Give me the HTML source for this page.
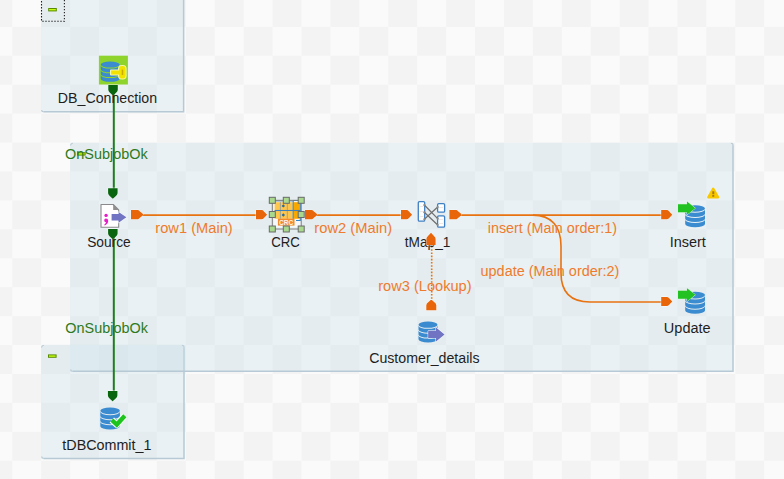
<!DOCTYPE html>
<html><head><meta charset="utf-8"><style>
html,body{margin:0;padding:0;width:784px;height:479px;overflow:hidden;background:#fafafa;}
</style></head><body><svg width="784" height="479" viewBox="0 0 784 479" style="display:block"><g fill="#f3f3f3"><rect x="12.30" y="-30.92" width="28.92" height="28.92"/><rect x="70.14" y="-30.92" width="28.92" height="28.92"/><rect x="127.98" y="-30.92" width="28.92" height="28.92"/><rect x="185.82" y="-30.92" width="28.92" height="28.92"/><rect x="243.66" y="-30.92" width="28.92" height="28.92"/><rect x="301.50" y="-30.92" width="28.92" height="28.92"/><rect x="359.34" y="-30.92" width="28.92" height="28.92"/><rect x="417.18" y="-30.92" width="28.92" height="28.92"/><rect x="475.02" y="-30.92" width="28.92" height="28.92"/><rect x="532.86" y="-30.92" width="28.92" height="28.92"/><rect x="590.70" y="-30.92" width="28.92" height="28.92"/><rect x="648.54" y="-30.92" width="28.92" height="28.92"/><rect x="706.38" y="-30.92" width="28.92" height="28.92"/><rect x="764.22" y="-30.92" width="28.92" height="28.92"/><rect x="-16.62" y="-2.00" width="28.92" height="28.92"/><rect x="41.22" y="-2.00" width="28.92" height="28.92"/><rect x="99.06" y="-2.00" width="28.92" height="28.92"/><rect x="156.90" y="-2.00" width="28.92" height="28.92"/><rect x="214.74" y="-2.00" width="28.92" height="28.92"/><rect x="272.58" y="-2.00" width="28.92" height="28.92"/><rect x="330.42" y="-2.00" width="28.92" height="28.92"/><rect x="388.26" y="-2.00" width="28.92" height="28.92"/><rect x="446.10" y="-2.00" width="28.92" height="28.92"/><rect x="503.94" y="-2.00" width="28.92" height="28.92"/><rect x="561.78" y="-2.00" width="28.92" height="28.92"/><rect x="619.62" y="-2.00" width="28.92" height="28.92"/><rect x="677.46" y="-2.00" width="28.92" height="28.92"/><rect x="735.30" y="-2.00" width="28.92" height="28.92"/><rect x="793.14" y="-2.00" width="28.92" height="28.92"/><rect x="12.30" y="26.92" width="28.92" height="28.92"/><rect x="70.14" y="26.92" width="28.92" height="28.92"/><rect x="127.98" y="26.92" width="28.92" height="28.92"/><rect x="185.82" y="26.92" width="28.92" height="28.92"/><rect x="243.66" y="26.92" width="28.92" height="28.92"/><rect x="301.50" y="26.92" width="28.92" height="28.92"/><rect x="359.34" y="26.92" width="28.92" height="28.92"/><rect x="417.18" y="26.92" width="28.92" height="28.92"/><rect x="475.02" y="26.92" width="28.92" height="28.92"/><rect x="532.86" y="26.92" width="28.92" height="28.92"/><rect x="590.70" y="26.92" width="28.92" height="28.92"/><rect x="648.54" y="26.92" width="28.92" height="28.92"/><rect x="706.38" y="26.92" width="28.92" height="28.92"/><rect x="764.22" y="26.92" width="28.92" height="28.92"/><rect x="-16.62" y="55.84" width="28.92" height="28.92"/><rect x="41.22" y="55.84" width="28.92" height="28.92"/><rect x="99.06" y="55.84" width="28.92" height="28.92"/><rect x="156.90" y="55.84" width="28.92" height="28.92"/><rect x="214.74" y="55.84" width="28.92" height="28.92"/><rect x="272.58" y="55.84" width="28.92" height="28.92"/><rect x="330.42" y="55.84" width="28.92" height="28.92"/><rect x="388.26" y="55.84" width="28.92" height="28.92"/><rect x="446.10" y="55.84" width="28.92" height="28.92"/><rect x="503.94" y="55.84" width="28.92" height="28.92"/><rect x="561.78" y="55.84" width="28.92" height="28.92"/><rect x="619.62" y="55.84" width="28.92" height="28.92"/><rect x="677.46" y="55.84" width="28.92" height="28.92"/><rect x="735.30" y="55.84" width="28.92" height="28.92"/><rect x="793.14" y="55.84" width="28.92" height="28.92"/><rect x="12.30" y="84.76" width="28.92" height="28.92"/><rect x="70.14" y="84.76" width="28.92" height="28.92"/><rect x="127.98" y="84.76" width="28.92" height="28.92"/><rect x="185.82" y="84.76" width="28.92" height="28.92"/><rect x="243.66" y="84.76" width="28.92" height="28.92"/><rect x="301.50" y="84.76" width="28.92" height="28.92"/><rect x="359.34" y="84.76" width="28.92" height="28.92"/><rect x="417.18" y="84.76" width="28.92" height="28.92"/><rect x="475.02" y="84.76" width="28.92" height="28.92"/><rect x="532.86" y="84.76" width="28.92" height="28.92"/><rect x="590.70" y="84.76" width="28.92" height="28.92"/><rect x="648.54" y="84.76" width="28.92" height="28.92"/><rect x="706.38" y="84.76" width="28.92" height="28.92"/><rect x="764.22" y="84.76" width="28.92" height="28.92"/><rect x="-16.62" y="113.68" width="28.92" height="28.92"/><rect x="41.22" y="113.68" width="28.92" height="28.92"/><rect x="99.06" y="113.68" width="28.92" height="28.92"/><rect x="156.90" y="113.68" width="28.92" height="28.92"/><rect x="214.74" y="113.68" width="28.92" height="28.92"/><rect x="272.58" y="113.68" width="28.92" height="28.92"/><rect x="330.42" y="113.68" width="28.92" height="28.92"/><rect x="388.26" y="113.68" width="28.92" height="28.92"/><rect x="446.10" y="113.68" width="28.92" height="28.92"/><rect x="503.94" y="113.68" width="28.92" height="28.92"/><rect x="561.78" y="113.68" width="28.92" height="28.92"/><rect x="619.62" y="113.68" width="28.92" height="28.92"/><rect x="677.46" y="113.68" width="28.92" height="28.92"/><rect x="735.30" y="113.68" width="28.92" height="28.92"/><rect x="793.14" y="113.68" width="28.92" height="28.92"/><rect x="12.30" y="142.60" width="28.92" height="28.92"/><rect x="70.14" y="142.60" width="28.92" height="28.92"/><rect x="127.98" y="142.60" width="28.92" height="28.92"/><rect x="185.82" y="142.60" width="28.92" height="28.92"/><rect x="243.66" y="142.60" width="28.92" height="28.92"/><rect x="301.50" y="142.60" width="28.92" height="28.92"/><rect x="359.34" y="142.60" width="28.92" height="28.92"/><rect x="417.18" y="142.60" width="28.92" height="28.92"/><rect x="475.02" y="142.60" width="28.92" height="28.92"/><rect x="532.86" y="142.60" width="28.92" height="28.92"/><rect x="590.70" y="142.60" width="28.92" height="28.92"/><rect x="648.54" y="142.60" width="28.92" height="28.92"/><rect x="706.38" y="142.60" width="28.92" height="28.92"/><rect x="764.22" y="142.60" width="28.92" height="28.92"/><rect x="-16.62" y="171.52" width="28.92" height="28.92"/><rect x="41.22" y="171.52" width="28.92" height="28.92"/><rect x="99.06" y="171.52" width="28.92" height="28.92"/><rect x="156.90" y="171.52" width="28.92" height="28.92"/><rect x="214.74" y="171.52" width="28.92" height="28.92"/><rect x="272.58" y="171.52" width="28.92" height="28.92"/><rect x="330.42" y="171.52" width="28.92" height="28.92"/><rect x="388.26" y="171.52" width="28.92" height="28.92"/><rect x="446.10" y="171.52" width="28.92" height="28.92"/><rect x="503.94" y="171.52" width="28.92" height="28.92"/><rect x="561.78" y="171.52" width="28.92" height="28.92"/><rect x="619.62" y="171.52" width="28.92" height="28.92"/><rect x="677.46" y="171.52" width="28.92" height="28.92"/><rect x="735.30" y="171.52" width="28.92" height="28.92"/><rect x="793.14" y="171.52" width="28.92" height="28.92"/><rect x="12.30" y="200.44" width="28.92" height="28.92"/><rect x="70.14" y="200.44" width="28.92" height="28.92"/><rect x="127.98" y="200.44" width="28.92" height="28.92"/><rect x="185.82" y="200.44" width="28.92" height="28.92"/><rect x="243.66" y="200.44" width="28.92" height="28.92"/><rect x="301.50" y="200.44" width="28.92" height="28.92"/><rect x="359.34" y="200.44" width="28.92" height="28.92"/><rect x="417.18" y="200.44" width="28.92" height="28.92"/><rect x="475.02" y="200.44" width="28.92" height="28.92"/><rect x="532.86" y="200.44" width="28.92" height="28.92"/><rect x="590.70" y="200.44" width="28.92" height="28.92"/><rect x="648.54" y="200.44" width="28.92" height="28.92"/><rect x="706.38" y="200.44" width="28.92" height="28.92"/><rect x="764.22" y="200.44" width="28.92" height="28.92"/><rect x="-16.62" y="229.36" width="28.92" height="28.92"/><rect x="41.22" y="229.36" width="28.92" height="28.92"/><rect x="99.06" y="229.36" width="28.92" height="28.92"/><rect x="156.90" y="229.36" width="28.92" height="28.92"/><rect x="214.74" y="229.36" width="28.92" height="28.92"/><rect x="272.58" y="229.36" width="28.92" height="28.92"/><rect x="330.42" y="229.36" width="28.92" height="28.92"/><rect x="388.26" y="229.36" width="28.92" height="28.92"/><rect x="446.10" y="229.36" width="28.92" height="28.92"/><rect x="503.94" y="229.36" width="28.92" height="28.92"/><rect x="561.78" y="229.36" width="28.92" height="28.92"/><rect x="619.62" y="229.36" width="28.92" height="28.92"/><rect x="677.46" y="229.36" width="28.92" height="28.92"/><rect x="735.30" y="229.36" width="28.92" height="28.92"/><rect x="793.14" y="229.36" width="28.92" height="28.92"/><rect x="12.30" y="258.28" width="28.92" height="28.92"/><rect x="70.14" y="258.28" width="28.92" height="28.92"/><rect x="127.98" y="258.28" width="28.92" height="28.92"/><rect x="185.82" y="258.28" width="28.92" height="28.92"/><rect x="243.66" y="258.28" width="28.92" height="28.92"/><rect x="301.50" y="258.28" width="28.92" height="28.92"/><rect x="359.34" y="258.28" width="28.92" height="28.92"/><rect x="417.18" y="258.28" width="28.92" height="28.92"/><rect x="475.02" y="258.28" width="28.92" height="28.92"/><rect x="532.86" y="258.28" width="28.92" height="28.92"/><rect x="590.70" y="258.28" width="28.92" height="28.92"/><rect x="648.54" y="258.28" width="28.92" height="28.92"/><rect x="706.38" y="258.28" width="28.92" height="28.92"/><rect x="764.22" y="258.28" width="28.92" height="28.92"/><rect x="-16.62" y="287.20" width="28.92" height="28.92"/><rect x="41.22" y="287.20" width="28.92" height="28.92"/><rect x="99.06" y="287.20" width="28.92" height="28.92"/><rect x="156.90" y="287.20" width="28.92" height="28.92"/><rect x="214.74" y="287.20" width="28.92" height="28.92"/><rect x="272.58" y="287.20" width="28.92" height="28.92"/><rect x="330.42" y="287.20" width="28.92" height="28.92"/><rect x="388.26" y="287.20" width="28.92" height="28.92"/><rect x="446.10" y="287.20" width="28.92" height="28.92"/><rect x="503.94" y="287.20" width="28.92" height="28.92"/><rect x="561.78" y="287.20" width="28.92" height="28.92"/><rect x="619.62" y="287.20" width="28.92" height="28.92"/><rect x="677.46" y="287.20" width="28.92" height="28.92"/><rect x="735.30" y="287.20" width="28.92" height="28.92"/><rect x="793.14" y="287.20" width="28.92" height="28.92"/><rect x="12.30" y="316.12" width="28.92" height="28.92"/><rect x="70.14" y="316.12" width="28.92" height="28.92"/><rect x="127.98" y="316.12" width="28.92" height="28.92"/><rect x="185.82" y="316.12" width="28.92" height="28.92"/><rect x="243.66" y="316.12" width="28.92" height="28.92"/><rect x="301.50" y="316.12" width="28.92" height="28.92"/><rect x="359.34" y="316.12" width="28.92" height="28.92"/><rect x="417.18" y="316.12" width="28.92" height="28.92"/><rect x="475.02" y="316.12" width="28.92" height="28.92"/><rect x="532.86" y="316.12" width="28.92" height="28.92"/><rect x="590.70" y="316.12" width="28.92" height="28.92"/><rect x="648.54" y="316.12" width="28.92" height="28.92"/><rect x="706.38" y="316.12" width="28.92" height="28.92"/><rect x="764.22" y="316.12" width="28.92" height="28.92"/><rect x="-16.62" y="345.04" width="28.92" height="28.92"/><rect x="41.22" y="345.04" width="28.92" height="28.92"/><rect x="99.06" y="345.04" width="28.92" height="28.92"/><rect x="156.90" y="345.04" width="28.92" height="28.92"/><rect x="214.74" y="345.04" width="28.92" height="28.92"/><rect x="272.58" y="345.04" width="28.92" height="28.92"/><rect x="330.42" y="345.04" width="28.92" height="28.92"/><rect x="388.26" y="345.04" width="28.92" height="28.92"/><rect x="446.10" y="345.04" width="28.92" height="28.92"/><rect x="503.94" y="345.04" width="28.92" height="28.92"/><rect x="561.78" y="345.04" width="28.92" height="28.92"/><rect x="619.62" y="345.04" width="28.92" height="28.92"/><rect x="677.46" y="345.04" width="28.92" height="28.92"/><rect x="735.30" y="345.04" width="28.92" height="28.92"/><rect x="793.14" y="345.04" width="28.92" height="28.92"/><rect x="12.30" y="373.96" width="28.92" height="28.92"/><rect x="70.14" y="373.96" width="28.92" height="28.92"/><rect x="127.98" y="373.96" width="28.92" height="28.92"/><rect x="185.82" y="373.96" width="28.92" height="28.92"/><rect x="243.66" y="373.96" width="28.92" height="28.92"/><rect x="301.50" y="373.96" width="28.92" height="28.92"/><rect x="359.34" y="373.96" width="28.92" height="28.92"/><rect x="417.18" y="373.96" width="28.92" height="28.92"/><rect x="475.02" y="373.96" width="28.92" height="28.92"/><rect x="532.86" y="373.96" width="28.92" height="28.92"/><rect x="590.70" y="373.96" width="28.92" height="28.92"/><rect x="648.54" y="373.96" width="28.92" height="28.92"/><rect x="706.38" y="373.96" width="28.92" height="28.92"/><rect x="764.22" y="373.96" width="28.92" height="28.92"/><rect x="-16.62" y="402.88" width="28.92" height="28.92"/><rect x="41.22" y="402.88" width="28.92" height="28.92"/><rect x="99.06" y="402.88" width="28.92" height="28.92"/><rect x="156.90" y="402.88" width="28.92" height="28.92"/><rect x="214.74" y="402.88" width="28.92" height="28.92"/><rect x="272.58" y="402.88" width="28.92" height="28.92"/><rect x="330.42" y="402.88" width="28.92" height="28.92"/><rect x="388.26" y="402.88" width="28.92" height="28.92"/><rect x="446.10" y="402.88" width="28.92" height="28.92"/><rect x="503.94" y="402.88" width="28.92" height="28.92"/><rect x="561.78" y="402.88" width="28.92" height="28.92"/><rect x="619.62" y="402.88" width="28.92" height="28.92"/><rect x="677.46" y="402.88" width="28.92" height="28.92"/><rect x="735.30" y="402.88" width="28.92" height="28.92"/><rect x="793.14" y="402.88" width="28.92" height="28.92"/><rect x="12.30" y="431.80" width="28.92" height="28.92"/><rect x="70.14" y="431.80" width="28.92" height="28.92"/><rect x="127.98" y="431.80" width="28.92" height="28.92"/><rect x="185.82" y="431.80" width="28.92" height="28.92"/><rect x="243.66" y="431.80" width="28.92" height="28.92"/><rect x="301.50" y="431.80" width="28.92" height="28.92"/><rect x="359.34" y="431.80" width="28.92" height="28.92"/><rect x="417.18" y="431.80" width="28.92" height="28.92"/><rect x="475.02" y="431.80" width="28.92" height="28.92"/><rect x="532.86" y="431.80" width="28.92" height="28.92"/><rect x="590.70" y="431.80" width="28.92" height="28.92"/><rect x="648.54" y="431.80" width="28.92" height="28.92"/><rect x="706.38" y="431.80" width="28.92" height="28.92"/><rect x="764.22" y="431.80" width="28.92" height="28.92"/><rect x="-16.62" y="460.72" width="28.92" height="28.92"/><rect x="41.22" y="460.72" width="28.92" height="28.92"/><rect x="99.06" y="460.72" width="28.92" height="28.92"/><rect x="156.90" y="460.72" width="28.92" height="28.92"/><rect x="214.74" y="460.72" width="28.92" height="28.92"/><rect x="272.58" y="460.72" width="28.92" height="28.92"/><rect x="330.42" y="460.72" width="28.92" height="28.92"/><rect x="388.26" y="460.72" width="28.92" height="28.92"/><rect x="446.10" y="460.72" width="28.92" height="28.92"/><rect x="503.94" y="460.72" width="28.92" height="28.92"/><rect x="561.78" y="460.72" width="28.92" height="28.92"/><rect x="619.62" y="460.72" width="28.92" height="28.92"/><rect x="677.46" y="460.72" width="28.92" height="28.92"/><rect x="735.30" y="460.72" width="28.92" height="28.92"/><rect x="793.14" y="460.72" width="28.92" height="28.92"/><rect x="12.30" y="489.64" width="28.92" height="28.92"/><rect x="70.14" y="489.64" width="28.92" height="28.92"/><rect x="127.98" y="489.64" width="28.92" height="28.92"/><rect x="185.82" y="489.64" width="28.92" height="28.92"/><rect x="243.66" y="489.64" width="28.92" height="28.92"/><rect x="301.50" y="489.64" width="28.92" height="28.92"/><rect x="359.34" y="489.64" width="28.92" height="28.92"/><rect x="417.18" y="489.64" width="28.92" height="28.92"/><rect x="475.02" y="489.64" width="28.92" height="28.92"/><rect x="532.86" y="489.64" width="28.92" height="28.92"/><rect x="590.70" y="489.64" width="28.92" height="28.92"/><rect x="648.54" y="489.64" width="28.92" height="28.92"/><rect x="706.38" y="489.64" width="28.92" height="28.92"/><rect x="764.22" y="489.64" width="28.92" height="28.92"/></g><rect x="41" y="-6" width="143.3" height="118.4" rx="1.5" fill="rgba(201,224,233,0.35)"/><path d="M183.60000000000002 -3.5 V111.7 H43.5" fill="none" stroke="#b6c9d5" stroke-width="1.45"/><path d="M43.5 111.7 Q41.7 111.7 41.7 109.9" fill="none" stroke="#b6c9d5" stroke-width="1.2"/><path d="M41.6 -3.2 Q41.6 -5.4 43.8 -5.4" fill="none" stroke="#b6c9d5" stroke-width="1"/><path d="M181.5 -5.4 Q183.60000000000002 -5.4 183.60000000000002 -3.5" fill="none" stroke="#b6c9d5" stroke-width="1.1"/><rect x="41" y="344.8" width="143.7" height="114.30000000000001" rx="1.5" fill="rgba(201,224,233,0.35)"/><path d="M184.0 347.3 V458.40000000000003 H43.5" fill="none" stroke="#b6c9d5" stroke-width="1.45"/><path d="M43.5 458.40000000000003 Q41.7 458.40000000000003 41.7 456.6" fill="none" stroke="#b6c9d5" stroke-width="1.2"/><path d="M41.6 347.6 Q41.6 345.40000000000003 43.8 345.40000000000003" fill="none" stroke="#b6c9d5" stroke-width="1"/><path d="M181.89999999999998 345.40000000000003 Q184.0 345.40000000000003 184.0 347.3" fill="none" stroke="#b6c9d5" stroke-width="1.1"/><rect x="70" y="142.7" width="663.7" height="229.2" rx="1.5" fill="rgba(201,224,233,0.35)"/><path d="M733.0 145.2 V371.2 H72.5" fill="none" stroke="#b6c9d5" stroke-width="1.45"/><path d="M72.5 371.2 Q70.7 371.2 70.7 369.4" fill="none" stroke="#b6c9d5" stroke-width="1.2"/><path d="M70.6 145.5 Q70.6 143.29999999999998 72.8 143.29999999999998" fill="none" stroke="#b6c9d5" stroke-width="1"/><path d="M730.9000000000001 143.29999999999998 Q733.0 143.29999999999998 733.0 145.2" fill="none" stroke="#b6c9d5" stroke-width="1.1"/><rect x="48.2" y="8" width="8.6" height="3.4" fill="#5a8a00"/><rect x="49.2" y="9" width="6.6" height="1.4" fill="#c4ff10"/><path d="M41.5 -2 V21.2 H64.4 V-2" fill="none" stroke="#222" stroke-width="1.1" stroke-dasharray="1.4 1.6"/><rect x="48" y="354.4" width="8.6" height="3.4" fill="#5a8a00"/><rect x="49" y="355.4" width="6.6" height="1.4" fill="#c4ff10"/><rect x="77" y="152.2" width="8.6" height="3.4" fill="#5a8a00"/><rect x="78" y="153.2" width="6.6" height="1.4" fill="#c4ff10"/><line x1="113.8" y1="86" x2="113.8" y2="196" stroke="#1f7d1f" stroke-width="2"/><line x1="113.8" y1="232" x2="113.8" y2="398" stroke="#1f7d1f" stroke-width="2"/><path d="M108.3 85 H117.8 V89.452 C117.8 92.42 114.19 94.01 113.05 95.6 C111.91 94.01 108.3 92.42 108.3 89.452 Z" fill="#0a650f" stroke="rgba(255,255,255,0.7)" stroke-width="1" paint-order="stroke"/><path d="M108.1 188.2 H117.6 V192.652 C117.6 195.61999999999998 113.99 197.20999999999998 112.85 198.79999999999998 C111.71 197.20999999999998 108.1 195.61999999999998 108.1 192.652 Z" fill="#0a650f" stroke="rgba(255,255,255,0.7)" stroke-width="1" paint-order="stroke"/><path d="M108.1 228.9 H117.6 V233.352 C117.6 236.32 113.99 237.91 112.85 239.5 C111.71 237.91 108.1 236.32 108.1 233.352 Z" fill="#0a650f" stroke="rgba(255,255,255,0.7)" stroke-width="1" paint-order="stroke"/><path d="M107.9 390.9 H117.4 V395.352 C117.4 398.32 113.79 399.90999999999997 112.65 401.5 C111.51 399.90999999999997 107.9 398.32 107.9 395.352 Z" fill="#0a650f" stroke="rgba(255,255,255,0.7)" stroke-width="1" paint-order="stroke"/><line x1="142" y1="215.1" x2="258" y2="215.1" stroke="#e8720f" stroke-width="1.6"/><path d="M131 210.1 H138.2 L143 214.10399999999998 V215.196 L138.2 219.2 H131 Z" fill="#e8650a" stroke="rgba(255,255,255,0.7)" stroke-width="1" paint-order="stroke"/><path d="M256 210.1 H261.55 Q262.882 210.1 263.992 211.48 L267.1 214.7 L263.992 217.92 Q262.882 219.29999999999998 261.55 219.29999999999998 H256 Z" fill="#e8650a" stroke="rgba(255,255,255,0.7)" stroke-width="1" paint-order="stroke"/><line x1="315" y1="215.1" x2="403" y2="215.1" stroke="#e8720f" stroke-width="1.6"/><path d="M305 210.1 H312.2 L317 214.10399999999998 V215.196 L312.2 219.2 H305 Z" fill="#e8650a" stroke="rgba(255,255,255,0.7)" stroke-width="1" paint-order="stroke"/><path d="M401 210.1 H406.55 Q407.882 210.1 408.992 211.48 L412.1 214.7 L408.992 217.92 Q407.882 219.29999999999998 406.55 219.29999999999998 H401 Z" fill="#e8650a" stroke="rgba(255,255,255,0.7)" stroke-width="1" paint-order="stroke"/><line x1="460" y1="215.1" x2="663" y2="215.1" stroke="#e8720f" stroke-width="1.6"/><path d="M449.4 210.1 H456.59999999999997 L461.4 214.10399999999998 V215.196 L456.59999999999997 219.2 H449.4 Z" fill="#e8650a" stroke="rgba(255,255,255,0.7)" stroke-width="1" paint-order="stroke"/><path d="M661.2 210.1 H666.75 Q668.082 210.1 669.192 211.48 L672.3000000000001 214.7 L669.192 217.92 Q668.082 219.29999999999998 666.75 219.29999999999998 H661.2 Z" fill="#e8650a" stroke="rgba(255,255,255,0.7)" stroke-width="1" paint-order="stroke"/><path d="M533 215.1 C551 215.1 561 226 561 246 V273 C561 292 570 302.0 590 302.0 H663" fill="none" stroke="#e8720f" stroke-width="1.6"/><path d="M661.2 296.9 H666.75 Q668.082 296.9 669.192 298.28 L672.3000000000001 301.5 L669.192 304.71999999999997 Q668.082 306.09999999999997 666.75 306.09999999999997 H661.2 Z" fill="#e8650a" stroke="rgba(255,255,255,0.7)" stroke-width="1" paint-order="stroke"/><line x1="431.7" y1="302" x2="431.7" y2="244" stroke="#e8720f" stroke-width="1.6" stroke-dasharray="1.6 1.6"/><path d="M426.3 310.3 V305.15 Q426.3 303.296 428.5 302.06 L430.7 300 H431.90000000000003 L434.1 302.06 Q436.3 303.296 436.3 305.15 V310.3 Z" fill="#e8650a" stroke="rgba(255,255,255,0.7)" stroke-width="1" paint-order="stroke"/><rect x="98.9" y="55.7" width="29" height="28.8" fill="#8fd42c"/><ellipse cx="110.2" cy="64.545" rx="9.5" ry="3.045" fill="#3b8bd0"/><path d="M100.7 65.545 A9.5 3.045 0 0 0 119.7 65.545 V69.28166666666667 A9.5 3.045 0 0 1 100.7 69.28166666666667 Z" fill="#3b8bd0"/><path d="M100.7 70.28166666666667 A9.5 3.045 0 0 0 119.7 70.28166666666667 V74.01833333333333 A9.5 3.045 0 0 1 100.7 74.01833333333333 Z" fill="#3b8bd0"/><path d="M100.7 75.01833333333333 A9.5 3.045 0 0 0 119.7 75.01833333333333 V78.755 A9.5 3.045 0 0 1 100.7 78.755 Z" fill="#3b8bd0"/><g stroke="#f6f6a8" stroke-width="2" stroke-linejoin="round" paint-order="stroke" fill="#f2e200"><path d="M111 70.6 H119 V68.8 Q119 66 121.8 66 H122.8 Q125.6 66 125.6 68.8 V75.8 Q125.6 78.6 122.8 78.6 H121.8 Q119 78.6 119 75.8 V74.4 H111 Z"/></g><rect x="121.7" y="69.6" width="1.5" height="5.4" fill="#c8ac00"/><path d="M101.0 204.5 H113.2 L118.7 210 V227.2 H101.0 Z" fill="#ffffff" stroke="#8a8a8a" stroke-width="1.1" stroke-linejoin="round"/><path d="M113.2 204.5 V210 H118.7 Z" fill="#8e8e8e"/><circle cx="106.1" cy="215.4" r="1.7" fill="#e81cc8"/><path d="M105.9 218.4 q2.3 0 2.3 2.4 q0 3 -3.4 4.8 l-0.6 -0.9 q1.6 -1 1.8 -2.4 q-1.8 -0.2 -1.8 -1.9 q0 -2 1.7 -2 z" fill="#e81cc8"/><path d="M111.6 214.0 H118.6 V211.9 L126.4 217.3 L118.6 222.8 V220.6 H111.6 Z" fill="#7074c2" stroke="#ffffff" stroke-width="1" stroke-linejoin="round" paint-order="stroke"/><rect x="274" y="199.8" width="27.4" height="27" fill="#f4f8fb"/><rect x="275.5" y="200" width="17.5" height="2" fill="#b8c6d4"/><rect x="274.6" y="202.2" width="18.3" height="16.6" fill="#ffc64e"/><rect x="293.6" y="202.2" width="6.2" height="16.6" fill="#f9a800"/><g fill="none"><path d="M280.4 202.2 V218.8 M287.3 202.2 V218.8" stroke="#8a9aa8" stroke-width="0.8"/><path d="M274.6 210.5 H300.5" stroke="#3f7fb8" stroke-width="1.1"/><path d="M293.2 200.5 V219.5 M293.2 200.5 H300.3 V220.5 H296" stroke="#2f86c8" stroke-width="1.1"/></g><path d="M283.3 204.2 l1.7 1.7 l-1.7 1.7 l-1.7 -1.7 z M283.3 213.3 l1.7 1.7 l-1.7 1.7 l-1.7 -1.7 z" fill="#2a6a98"/><rect x="277.9" y="218.6" width="16.6" height="7" fill="#f28a2c"/><text x="286.2" y="224.6" font-family="Liberation Sans" font-weight="bold" font-size="6.6" fill="#fff" text-anchor="middle" opacity="0.9">CRC</text><rect x="272.3" y="200.3" width="28.9" height="28.7" fill="none" stroke="#7a7a7a" stroke-width="1"/><rect x="269.3" y="197.3" width="6" height="6" fill="#a8d98c" stroke="#6a6a6a" stroke-width="1"/><rect x="269.3" y="211.5" width="6" height="6" fill="#a8d98c" stroke="#6a6a6a" stroke-width="1"/><rect x="269.3" y="226" width="6" height="6" fill="#a8d98c" stroke="#6a6a6a" stroke-width="1"/><rect x="283.3" y="197.3" width="6" height="6" fill="#a8d98c" stroke="#6a6a6a" stroke-width="1"/><rect x="283.3" y="226" width="6" height="6" fill="#a8d98c" stroke="#6a6a6a" stroke-width="1"/><rect x="298.2" y="197.3" width="6" height="6" fill="#a8d98c" stroke="#6a6a6a" stroke-width="1"/><rect x="298.2" y="211.5" width="6" height="6" fill="#a8d98c" stroke="#6a6a6a" stroke-width="1"/><rect x="298.2" y="226" width="6" height="6" fill="#a8d98c" stroke="#6a6a6a" stroke-width="1"/><rect x="418.3" y="201.6" width="6.4" height="19.6" rx="1.2" fill="#fff" stroke="#3f80c4" stroke-width="1.3"/><rect x="437.6" y="203.6" width="7" height="8.6" rx="1.2" fill="#fff" stroke="#3f80c4" stroke-width="1.3"/><rect x="437.6" y="215.8" width="7" height="11.4" rx="1.2" fill="#fff" stroke="#3f80c4" stroke-width="1.3"/><g stroke="#e8d8d0" stroke-width="0.6"><path d="M419.5 206.5 H423.5 M419.5 211.5 H423.5 M419.5 216.5 H423.5 M439 207.5 H443 M439 219.5 H443 M439 223.5 H443"/></g><g stroke="#6e6e6e" stroke-width="1.2" fill="none"><path d="M424.3 205 L437.7 218.7 M424.3 212.3 L437.7 225 M424.3 219.3 L437.7 207"/></g><g fill="#8a8a8a"><circle cx="424.3" cy="205" r="1.1"/><circle cx="424.3" cy="212.3" r="1.1"/><circle cx="424.3" cy="219.3" r="1.1"/><circle cx="437.7" cy="207" r="1.1"/><circle cx="437.7" cy="218.7" r="1.1"/><circle cx="437.7" cy="225" r="1.1"/></g><ellipse cx="695.1" cy="208.5" rx="9.9" ry="3.3" fill="#3b8bd0"/><path d="M685.2 209.5 A9.9 3.3 0 0 0 705.0 209.5 V213.63333333333333 A9.9 3.3 0 0 1 685.2 213.63333333333333 Z" fill="#3b8bd0"/><path d="M685.2 214.63333333333333 A9.9 3.3 0 0 0 705.0 214.63333333333333 V218.76666666666665 A9.9 3.3 0 0 1 685.2 218.76666666666665 Z" fill="#3b8bd0"/><path d="M685.2 219.76666666666668 A9.9 3.3 0 0 0 705.0 219.76666666666668 V223.9 A9.9 3.3 0 0 1 685.2 223.9 Z" fill="#3b8bd0"/><path d="M678 204.23999999999998 H686.996 V201.6 L695.3 208.2 L686.996 214.79999999999998 V212.16 H678 Z" fill="#22c222" stroke="#d8f4d8" stroke-width="1" stroke-linejoin="round" paint-order="stroke"/><ellipse cx="695.1" cy="295.1" rx="9.9" ry="3.3" fill="#3b8bd0"/><path d="M685.2 296.1 A9.9 3.3 0 0 0 705.0 296.1 V300.23333333333335 A9.9 3.3 0 0 1 685.2 300.23333333333335 Z" fill="#3b8bd0"/><path d="M685.2 301.23333333333335 A9.9 3.3 0 0 0 705.0 301.23333333333335 V305.3666666666667 A9.9 3.3 0 0 1 685.2 305.3666666666667 Z" fill="#3b8bd0"/><path d="M685.2 306.3666666666667 A9.9 3.3 0 0 0 705.0 306.3666666666667 V310.5 A9.9 3.3 0 0 1 685.2 310.5 Z" fill="#3b8bd0"/><path d="M678 290.84 H686.996 V288.2 L695.3 294.8 L686.996 301.4 V298.76 H678 Z" fill="#22c222" stroke="#d8f4d8" stroke-width="1" stroke-linejoin="round" paint-order="stroke"/><ellipse cx="428.0" cy="324.65" rx="9.5" ry="3.15" fill="#3b8bd0"/><path d="M418.5 325.65 A9.5 3.15 0 0 0 437.5 325.65 V329.54999999999995 A9.5 3.15 0 0 1 418.5 329.54999999999995 Z" fill="#3b8bd0"/><path d="M418.5 330.54999999999995 A9.5 3.15 0 0 0 437.5 330.54999999999995 V334.44999999999993 A9.5 3.15 0 0 1 418.5 334.44999999999993 Z" fill="#3b8bd0"/><path d="M418.5 335.45 A9.5 3.15 0 0 0 437.5 335.45 V339.34999999999997 A9.5 3.15 0 0 1 418.5 339.34999999999997 Z" fill="#3b8bd0"/><path d="M428.2 330.8 H436 V327.4 L444.6 334.4 L436 341.4 V338 H428.2 Z" fill="#7074c2" stroke="#ffffff" stroke-width="1" stroke-linejoin="round" paint-order="stroke"/><ellipse cx="110.1" cy="410.87" rx="9.8" ry="3.27" fill="#3b8bd0"/><path d="M100.3 411.87 A9.8 3.27 0 0 0 119.9 411.87 V415.95666666666665 A9.8 3.27 0 0 1 100.3 415.95666666666665 Z" fill="#3b8bd0"/><path d="M100.3 416.95666666666665 A9.8 3.27 0 0 0 119.9 416.95666666666665 V421.0433333333333 A9.8 3.27 0 0 1 100.3 421.0433333333333 Z" fill="#3b8bd0"/><path d="M100.3 422.04333333333335 A9.8 3.27 0 0 0 119.9 422.04333333333335 V426.13 A9.8 3.27 0 0 1 100.3 426.13 Z" fill="#3b8bd0"/><path d="M111.8 420 L116.8 424.6 L124.8 415.8" fill="none" stroke="#f4fff4" stroke-width="6.6" stroke-linejoin="round"/><path d="M111.8 420 L116.8 424.6 L124.8 415.8" fill="none" stroke="#1ec41e" stroke-width="4.4" stroke-linejoin="miter"/><path d="M713.2 188.6 L718.2 197.4 H708.2 Z" fill="#f8c800" stroke="#f8c800" stroke-width="2.2" stroke-linejoin="round"/><rect x="712.3" y="191.3" width="1.9" height="2.9" fill="#9a6c00" opacity="0.85"/><rect x="712.3" y="195" width="1.9" height="1.8" fill="#9a6c00" opacity="0.85"/><text transform="translate(57.87 102.7) scale(0.9456 1)" x="0" y="0" font-family="Liberation Sans, sans-serif" font-size="15" fill="#1e1e1e">DB_Connection</text><text transform="translate(65.03 159.2) scale(0.9636 1)" x="0" y="0" font-family="Liberation Sans, sans-serif" font-size="15" fill="#2f7a1c">OnSubjobOk</text><text transform="translate(65.33 332.8) scale(0.9624 1)" x="0" y="0" font-family="Liberation Sans, sans-serif" font-size="15" fill="#2f7a1c">OnSubjobOk</text><text transform="translate(87.16 247.0) scale(0.9177 1)" x="0" y="0" font-family="Liberation Sans, sans-serif" font-size="15" fill="#1e1e1e">Source</text><text transform="translate(271.20 247.0) scale(0.8778 1)" x="0" y="0" font-family="Liberation Sans, sans-serif" font-size="15" fill="#1e1e1e">CRC</text><text transform="translate(404.72 247.0) scale(0.9145 1)" x="0" y="0" font-family="Liberation Sans, sans-serif" font-size="15" fill="#1e1e1e">tMap_1</text><text transform="translate(669.75 247.0) scale(0.9639 1)" x="0" y="0" font-family="Liberation Sans, sans-serif" font-size="15" fill="#1e1e1e">Insert</text><text transform="translate(663.84 333.4) scale(0.9677 1)" x="0" y="0" font-family="Liberation Sans, sans-serif" font-size="15" fill="#1e1e1e">Update</text><text transform="translate(369.14 362.7) scale(0.9463 1)" x="0" y="0" font-family="Liberation Sans, sans-serif" font-size="15" fill="#1e1e1e">Customer_details</text><text transform="translate(62.31 449.6) scale(0.9556 1)" x="0" y="0" font-family="Liberation Sans, sans-serif" font-size="15" fill="#1e1e1e">tDBCommit_1</text><text transform="translate(155.32 232.8) scale(0.9780 1)" x="0" y="0" font-family="Liberation Sans, sans-serif" font-size="15" fill="#ef7b2c">row1 (Main)</text><text transform="translate(314.32 232.8) scale(0.9832 1)" x="0" y="0" font-family="Liberation Sans, sans-serif" font-size="15" fill="#ef7b2c">row2 (Main)</text><text transform="translate(487.74 233.0) scale(0.9579 1)" x="0" y="0" font-family="Liberation Sans, sans-serif" font-size="15" fill="#ef7b2c">insert (Main order:1)</text><text transform="translate(480.54 275.7) scale(0.9635 1)" x="0" y="0" font-family="Liberation Sans, sans-serif" font-size="15" fill="#ef7b2c">update (Main order:2)</text><text transform="translate(378.23 290.8) scale(0.9744 1)" x="0" y="0" font-family="Liberation Sans, sans-serif" font-size="15" fill="#ef7b2c">row3 (Lookup)</text><line x1="431.7" y1="246" x2="431.7" y2="240" stroke="#e8720f" stroke-width="1.6"/><path d="M426.4 245.0 V238.9 Q426.4 237.436 427.78 236.216 L431.0 232.8 L434.21999999999997 236.216 Q435.59999999999997 237.436 435.59999999999997 238.9 V245.0 Z" fill="#e8650a" stroke="rgba(255,255,255,0.7)" stroke-width="1" paint-order="stroke"/></svg></body></html>
